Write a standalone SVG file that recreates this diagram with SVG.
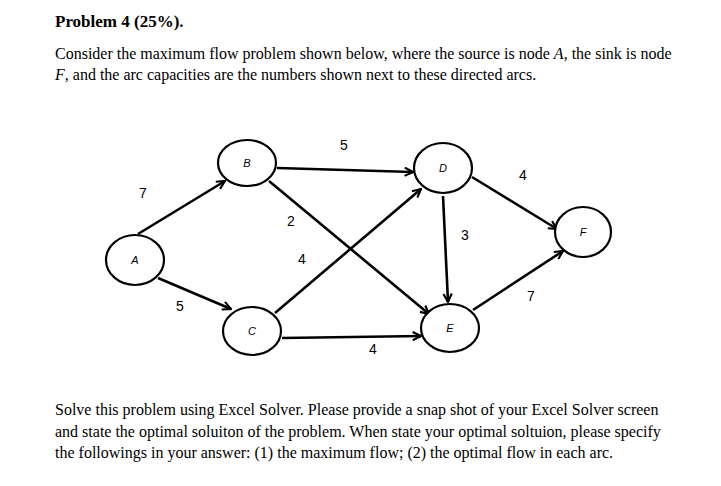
<svg xmlns="http://www.w3.org/2000/svg" width="721" height="486" viewBox="0 0 721 486">
<style>
.t{font-family:"Liberation Serif",serif;font-size:16px;fill:#000}
.n ellipse{fill:#fff;stroke:#000;stroke-width:2.2}
.n text{font-family:"Liberation Sans",sans-serif;font-size:11px;font-style:italic;text-anchor:middle}
.e line{stroke:#000;stroke-width:2.6;marker-end:url(#ah)}
.l{font-family:"Liberation Sans",sans-serif;font-size:14px;text-anchor:middle}
</style>
<defs><marker id="ah" viewBox="0 0 10 10" refX="9" refY="5" markerWidth="4" markerHeight="4" orient="auto" markerUnits="strokeWidth"><path d="M1,1 L9,5 L1,9" fill="none" stroke="#000" stroke-width="2"/></marker></defs>
<rect width="721" height="486" fill="#fff"/>
<text x="55" y="27" class="t" style="font-weight:bold;font-size:17px">Problem 4 (25%).</text>
<text x="55" y="59" class="t">Consider the maximum flow problem shown below, where the source is node <tspan font-style="italic">A</tspan>, the sink is node</text>
<text x="55" y="80" class="t"><tspan font-style="italic">F</tspan>, and the arc capacities are the numbers shown next to these directed arcs.</text>
<g class="e" id="connectors">
<line x1="138" y1="234" x2="225" y2="181"/>
<line x1="158" y1="278" x2="231" y2="309"/>
<line x1="277" y1="168" x2="413" y2="172"/>
<line x1="269" y1="181" x2="429" y2="314"/>
<line x1="275" y1="313" x2="421" y2="189"/>
<line x1="282" y1="338" x2="421" y2="336"/>
<line x1="443" y1="196" x2="448" y2="302"/>
<line x1="472" y1="177" x2="557" y2="229"/>
<line x1="473" y1="310" x2="563" y2="251"/>
</g>
<g id="A" class="n"><ellipse cx="135" cy="260" rx="29" ry="25"/><text x="135" y="264">A</text></g>
<g id="B" class="n"><ellipse cx="247" cy="163" rx="29" ry="23"/><text x="247" y="167">B</text></g>
<g id="C" class="n"><ellipse cx="252" cy="331" rx="29" ry="24"/><text x="252" y="335">C</text></g>
<g id="D" class="n"><ellipse cx="443" cy="168" rx="29" ry="25"/><text x="443" y="172">D</text></g>
<g id="E" class="n"><ellipse cx="450" cy="328" rx="29" ry="24"/><text x="450" y="332">E</text></g>
<g id="F" class="n"><ellipse cx="583" cy="232" rx="28" ry="25"/><text x="583" y="236">F</text></g>
<g id="labels">
<text x="143" y="198" class="l">7</text>
<text x="180" y="311" class="l">5</text>
<text x="344" y="150" class="l">5</text>
<text x="291" y="226" class="l">2</text>
<text x="302" y="264" class="l">4</text>
<text x="465" y="240" class="l">3</text>
<text x="523" y="180" class="l">4</text>
<text x="531" y="301" class="l">7</text>
<text x="373" y="354" class="l">4</text>
</g>
<text x="55" y="415" class="t">Solve this problem using Excel Solver.  Please provide a snap shot of your Excel Solver screen</text>
<text x="55" y="437" class="t">and state the optimal soluiton of the problem.  When state your optimal soltuion, please specify</text>
<text x="55" y="458" class="t">the followings in your answer: (1) the maximum flow; (2) the optimal flow in each arc.</text>
</svg>
